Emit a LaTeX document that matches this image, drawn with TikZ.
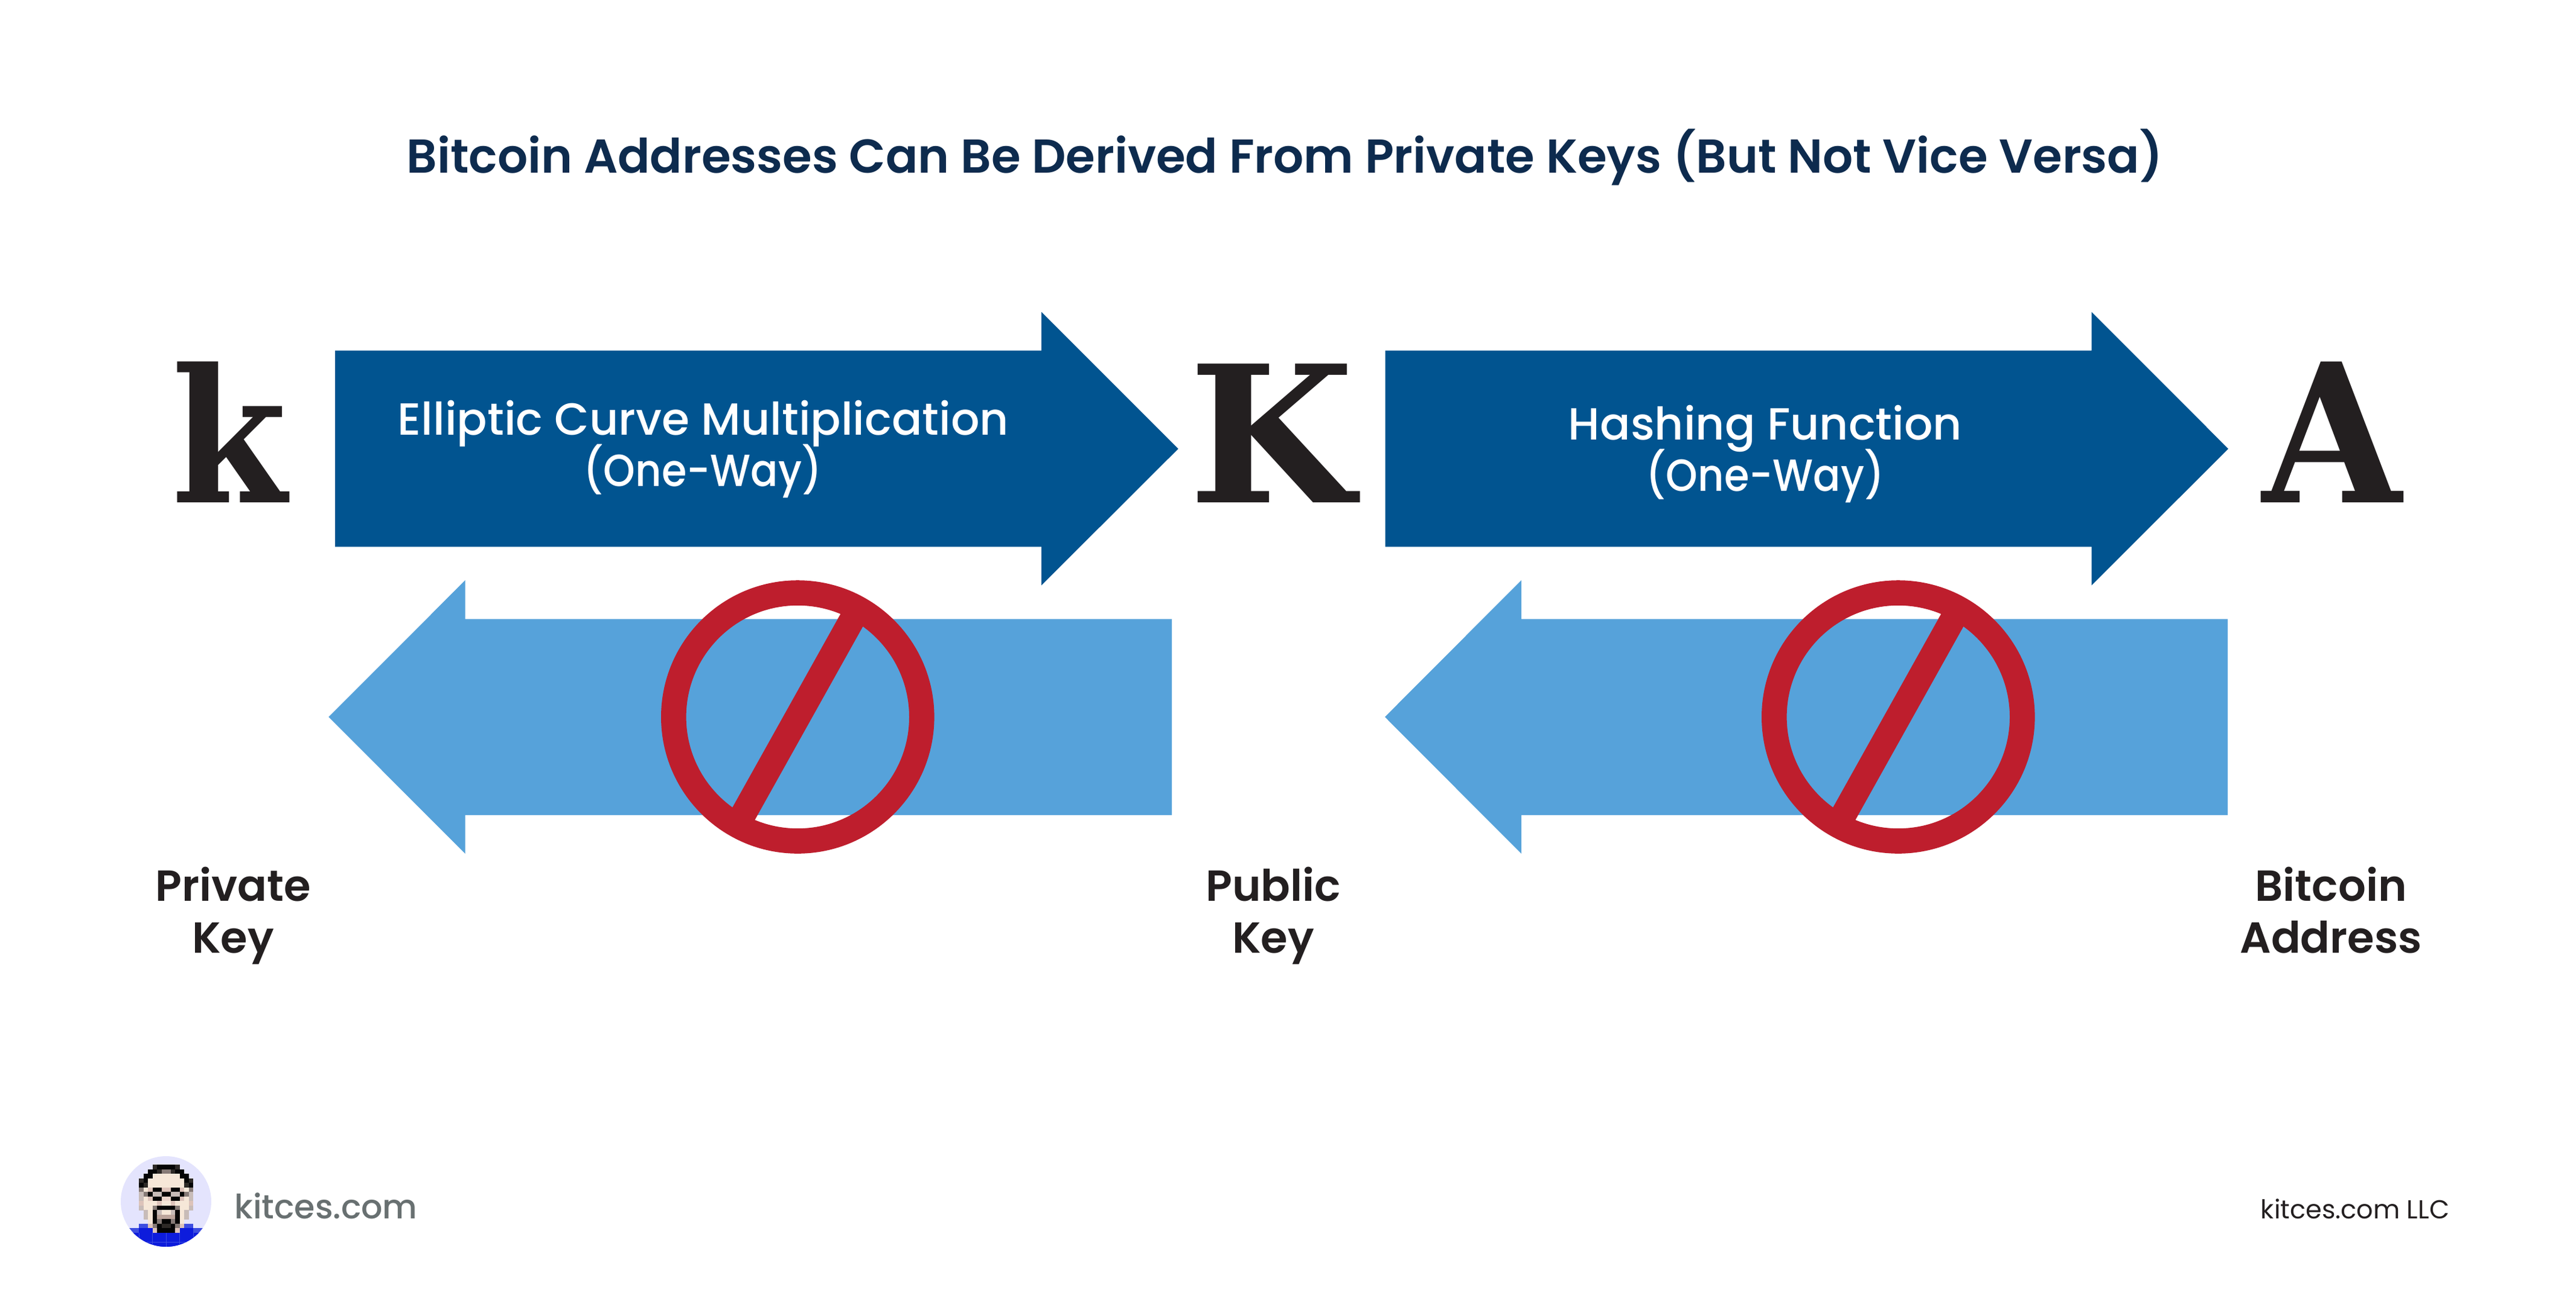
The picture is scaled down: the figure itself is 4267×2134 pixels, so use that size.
\documentclass[tikz,border=0pt]{standalone}
\usepackage{fontspec}
\usetikzlibrary{calc}
\setmainfont{Poppins}
\newfontfamily\medfont{Poppins Medium}
\newfontfamily\semifont{Poppins SemiBold}
\newfontfamily\slabfont{DejaVu Serif}[BoldFont={DejaVu Serif Bold}]
\definecolor{titleblue}{HTML}{0D2B4E}
\definecolor{inkblack}{HTML}{231F20}
\definecolor{darkarrow}{HTML}{015490}
\definecolor{lightarrow}{HTML}{56A2DA}
\definecolor{banred}{HTML}{BE1E2D}
\definecolor{greytext}{HTML}{687071}
\definecolor{bk}{HTML}{050505}
\definecolor{dk}{HTML}{2D2926}
\definecolor{gy}{HTML}{877B77}
\definecolor{lg}{HTML}{C8BCB8}
\definecolor{pn}{HTML}{DDC3BA}
\definecolor{lp}{HTML}{ECD5CB}
\definecolor{sk}{HTML}{F6E7D8}
\definecolor{br}{HTML}{BCA59C}
\definecolor{bd}{HTML}{0D1CDC}
\definecolor{bl}{HTML}{3D4DE0}
\definecolor{halo}{HTML}{E4E4FD}
\tikzset{
  x=1pt,y=-1pt,
  textnode/.style={inner sep=0pt,outer sep=0pt,anchor=base,align=center},
  ring/.style={draw=banred,line width=41.6pt},
  slash/.style={draw=banred,line width=42.5pt},
}
\newcommand{\arrowtxt}{\medfont\fontsize{74.5}{88}\selectfont}
\newcommand{\captiontxt}{\semifont\fontsize{72}{86}\selectfont}
\newcommand{\slabtxt}{\slabfont\bfseries\fontsize{320}{320}\selectfont}
\begin{document}
\begin{tikzpicture}
\useasboundingbox[fill=white] (0,0) rectangle (4267,2134);
% title
\node[textnode,text=titleblue] (title) at (2128,286) {\semifont\fontsize{78.75}{92}\selectfont Bitcoin Addresses Can Be Derived From Private Keys (But Not Vice Versa)};
% upper arrows
\fill[darkarrow] (555,580.7) -- (1725,580.7) -- (1725,516.7) -- (1951.7,743.3) -- (1725,969.5) -- (1725,905.7) -- (555,905.7) -- cycle;
\fill[darkarrow] (2294.5,580.7) -- (3464.5,580.7) -- (3464.5,516.7) -- (3691,743.3) -- (3464.5,969.5) -- (3464.5,905.7) -- (2294.5,905.7) -- cycle;
% lower arrows
\fill[lightarrow] (1941,1025.3) -- (770.7,1025.3) -- (770.7,961) -- (544.3,1187.5) -- (770.7,1414) -- (770.7,1350) -- (1941,1350) -- cycle;
\fill[lightarrow] (3690,1025.3) -- (2520,1025.3) -- (2520,961) -- (2294,1187.5) -- (2520,1414) -- (2520,1350) -- (3690,1350) -- cycle;
% prohibition signs
\coordinate (banA) at (1321.3,1187.5);
\coordinate (banB) at (3144.3,1187.5);
\draw[ring] (banA) circle (205.5);
\draw[slash] ($(banA)+(100,-179)$) -- ($(banA)+(-100,179)$);
\draw[ring] (banB) circle (205.5);
\draw[slash] ($(banB)+(100,-179)$) -- ($(banB)+(-100,179)$);
% arrow labels
\node[textnode,text=white] (ec1) at (1165,720.7) {\arrowtxt Elliptic Curve Multiplication};
\node[textnode,text=white] (ec2) at (1164,805) {\scalebox{.90}[1]{\arrowtxt (One-Way)}};
\node[textnode,text=white] (hf1) at (2924,728) {\arrowtxt Hashing Function};
\node[textnode,text=white] (hf2) at (2924,813) {\scalebox{.90}[1]{\arrowtxt (One-Way)}};
% letters
\node[textnode,text=inkblack] (kk) at (380.3,832) {\scalebox{.86}[.96]{\slabtxt k}};
\node[textnode,text=inkblack] (bigK) at (2106.5,832) {\scalebox{.985}[.985]{\slabtxt K}};
\node[textnode,text=inkblack] (aa) at (3863,832) {\scalebox{.93}[1]{\slabtxt A}};
% captions
\node[textnode,text=inkblack] (c1a) at (386,1492) {\captiontxt Private};
\node[textnode,text=inkblack] (c1b) at (386,1578) {\captiontxt Key};
\node[textnode,text=inkblack] (c2a) at (2109,1492) {\captiontxt Public};
\node[textnode,text=inkblack] (c2b) at (2109,1578) {\captiontxt Key};
\node[textnode,text=inkblack] (c3a) at (3861,1492) {\captiontxt Bitcoin};
\node[textnode,text=inkblack] (c3b) at (3861,1578) {\captiontxt Address};
% footer
\node[textnode,text=greytext] (brand) at (540,2018) {\medfont\fontsize{55.5}{66}\selectfont kitces.com};
\node[textnode,text=inkblack] (llc) at (3901,2018) {\fontsize{43}{52}\selectfont kitces.com LLC};
% avatar
\begin{scope}
\clip (275,1990) circle (75);
\fill[halo] (200,1915) rectangle (350,2065);
\fill[bl] (200,2034.3) rectangle (350,2065);
\fill[bl] (230,2026.8) rectangle (245,2034.8);
\fill[bl] (305,2026.8) rectangle (320,2034.8);
\foreach \rw/\cells in {0/{3/3/dk,4/7/bk,8/8/dk},
 1/{2/3/bk,4/4/dk,5/6/gy,7/7/dk,8/9/bk},
 2/{1/2/bk,3/8/sk,9/10/bk},
 3/{0/0/dk,1/1/bk,2/9/sk,10/10/bk,11/11/dk},
 4/{0/0/bk,1/1/dk,2/9/sk,10/10/dk,11/11/bk},
 5/{0/0/gy,1/1/sk,2/2/pn,3/4/bk,5/6/pn,7/8/bk,9/9/pn,10/10/sk,11/11/gy},
 6/{0/0/lg,1/1/gy,2/2/bk,3/4/lg,5/6/bk,7/8/lg,9/9/bk,10/10/gy,11/11/lg},
 7/{0/0/lg,1/1/sk,2/2/pn,3/4/bk,5/6/lp,7/8/bk,9/9/pn,10/10/sk,11/11/lg},
 8/{0/0/pn,1/3/sk,4/4/pn,5/6/sk,7/7/pn,8/10/sk,11/11/pn},
 9/{0/0/lg,1/2/sk,3/3/gy,4/7/bk,8/8/gy,9/10/sk,11/11/lg},
 10/{1/1/lg,2/2/sk,3/3/bk,4/4/lg,5/6/sk,7/7/lg,8/8/bk,9/9/sk,10/10/lg},
 11/{1/1/lg,2/2/sk,3/3/bk,4/7/br,8/8/bk,9/9/sk,10/10/lg},
 12/{2/2/sk,3/3/bk,4/4/gy,5/6/bk,7/7/gy,8/8/bk,9/9/sk},
 13/{2/2/pn,3/3/gy,4/4/bk,5/6/dk,7/7/bk,8/8/gy,9/9/pn},
 14/{0/2/bd,3/3/pn,4/7/bk,8/8/pn,9/11/bd}} {
  \foreach \a/\b/\c in \cells {
    \fill[\c] ({230+7.5*\a},{1929.33+7.5*\rw}) rectangle ({230+7.5*(\b+1)+0.2},{1929.33+7.5*(\rw+1)+0.2});
  }
}
\fill[bd] (200,2042) rectangle (350,2065);
\foreach \gx in {0,3,6,9,12} \draw[bl,line width=0.7pt] ({230+7.5*\gx},2042) -- ({230+7.5*\gx},2065);
\draw[bl,line width=0.7pt] (200,2057) -- (350,2057);
\end{scope}
\end{tikzpicture}
\end{document}
